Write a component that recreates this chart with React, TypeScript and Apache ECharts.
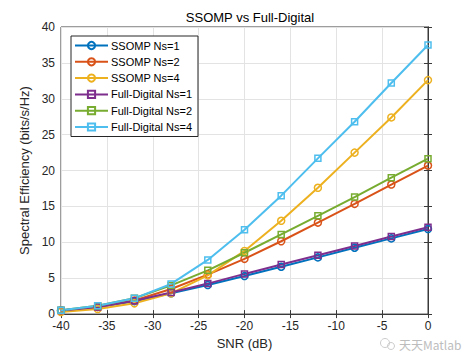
import React, { useEffect, useRef } from "react";
import * as echarts from "echarts";

const snr = [-40, -36, -32, -28, -24, -20, -16, -12, -8, -4, 0];
const ssomp1 = [0.5, 1.0, 1.8, 2.9, 4.05, 5.3, 6.6, 7.9, 9.25, 10.55, 11.85];
const ssomp2 = [0.5, 1.0, 1.9, 3.5, 5.5, 7.7, 10.15, 12.75, 15.35, 18.05, 20.7];
const ssomp4 = [0.3, 0.7, 1.5, 2.9, 5.4, 8.8, 13.0, 17.6, 22.5, 27.4, 32.6];
const fd1 = [0.5, 1.0, 1.85, 3.0, 4.25, 5.6, 6.9, 8.2, 9.5, 10.8, 12.1];
const fd2 = [0.55, 1.15, 2.2, 4.0, 6.1, 8.55, 11.1, 13.7, 16.3, 19.0, 21.65];
const fd4 = [0.55, 1.15, 2.2, 4.2, 7.55, 11.75, 16.5, 21.7, 26.8, 32.2, 37.5];

const seriesDefs = [
  { name: "SSOMP Ns=1", data: ssomp1, color: "#0072BD", symbol: "circle" },
  { name: "SSOMP Ns=2", data: ssomp2, color: "#D95319", symbol: "circle" },
  { name: "SSOMP Ns=4", data: ssomp4, color: "#EDB120", symbol: "circle" },
  { name: "Full-Digital Ns=1", data: fd1, color: "#7E2F8E", symbol: "rect" },
  { name: "Full-Digital Ns=2", data: fd2, color: "#77AC30", symbol: "rect" },
  { name: "Full-Digital Ns=4", data: fd4, color: "#4DBEEE", symbol: "rect" },
];

const font = "Liberation Sans, Arial, sans-serif";

export default function App() {
  const ref = useRef<HTMLDivElement>(null);
  useEffect(() => {
    if (!ref.current) return;
    const chart = echarts.init(ref.current, null, { renderer: "svg" });
    const axisCommon = {
      axisLine: { show: true, lineStyle: { color: "#3a3a3a", width: 1 } },
      axisTick: { show: true, inside: true, length: 4, lineStyle: { color: "#3a3a3a" } },
    };
    chart.setOption({
      animation: false,
      backgroundColor: "#ffffff",
      title: {
        text: "SSOMP vs Full-Digital",
        left: 245,
        top: 6,
        textAlign: "center",
        textStyle: { fontFamily: font, fontSize: 13, fontWeight: "normal", color: "#000" },
      },
      grid: { left: 61, right: 46, top: 27, bottom: 39, show: true, borderColor: "#3a3a3a", borderWidth: 1 },
      legend: {
        orient: "vertical",
        left: 71,
        top: 36,
        itemWidth: 33,
        itemHeight: 9,
        itemGap: 5.3,
        padding: [4, 6, 4, 3],
        backgroundColor: "#ffffff",
        borderColor: "#262626",
        borderWidth: 1,
        borderRadius: 0,
        textStyle: { fontFamily: font, fontSize: 11, color: "#000", padding: [0, 0, 0, -2] },
        data: seriesDefs.map((s) => s.name),
      },
      xAxis: [
        {
          ...axisCommon,
          type: "value",
          min: -40,
          max: 0,
          interval: 5,
          name: "SNR (dB)",
          nameLocation: "middle",
          nameGap: 22,
          nameTextStyle: { fontFamily: font, fontSize: 13, color: "#262626" },
          axisLabel: { fontFamily: font, fontSize: 12, color: "#262626", margin: 6 },
          splitLine: { show: true, lineStyle: { color: "#e3e3e3", width: 1 } },
        },
        {
          ...axisCommon,
          type: "value",
          position: "top",
          min: -40,
          max: 0,
          interval: 5,
          axisLabel: { show: false },
          splitLine: { show: false },
        },
      ],
      yAxis: [
        {
          ...axisCommon,
          type: "value",
          min: 0,
          max: 40,
          interval: 5,
          name: "Spectral Efficiency (bits/s/Hz)",
          nameLocation: "middle",
          nameGap: 26,
          nameTextStyle: { fontFamily: font, fontSize: 13, color: "#262626" },
          axisLabel: { fontFamily: font, fontSize: 12, color: "#262626", margin: 6 },
          splitLine: { show: true, lineStyle: { color: "#e3e3e3", width: 1 } },
        },
        {
          ...axisCommon,
          type: "value",
          position: "right",
          min: 0,
          max: 40,
          interval: 5,
          axisLabel: { show: false },
          splitLine: { show: false },
        },
      ],
      series: seriesDefs.map((s) => ({
        name: s.name,
        type: "line",
        data: snr.map((x, i) => [x, s.data[i]]),
        symbol: s.symbol,
        symbolSize: s.symbol === "circle" ? 7 : 6,
        showAllSymbol: true,
        color: s.color,
        lineStyle: { color: s.color, width: 2 },
        itemStyle: { color: "rgba(255,255,255,0)", borderColor: s.color, borderWidth: 1.5 },
        emphasis: { disabled: true },
      })),
      graphic: [
        {
          type: "text",
          left: 399,
          top: 338,
          style: { text: "天天Matlab", fontFamily: "Noto Sans CJK SC, sans-serif", fontSize: 12, fill: "#bdbdbd" },
        },
        {
          type: "circle",
          shape: { cx: 385, cy: 343, r: 4.5 },
          style: { fill: "none", stroke: "#cccccc", lineWidth: 1 },
        },
        {
          type: "circle",
          shape: { cx: 391, cy: 346, r: 3.5 },
          style: { fill: "none", stroke: "#cccccc", lineWidth: 1 },
        },
      ],
    });
    return () => chart.dispose();
  }, []);
  return (
    <div
      ref={ref}
      style={{ position: "fixed", left: 0, top: 0, width: 474, height: 355, background: "#fff" }}
    />
  );
}
